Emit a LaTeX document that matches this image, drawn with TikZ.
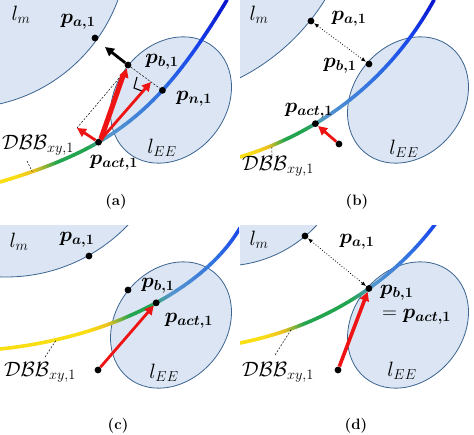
\documentclass[tikz,border=0pt]{standalone}
\usepackage{amsmath}
\usetikzlibrary{arrows.meta}
\definecolor{regfill}{RGB}{219,229,243}
\definecolor{regline}{RGB}{60,100,145}
\definecolor{arrred}{RGB}{238,20,20}
\definecolor{cYel}{RGB}{250,222,20}
\definecolor{cGold}{RGB}{235,192,35}
\definecolor{cGreen}{RGB}{35,165,80}
\definecolor{cSteel}{RGB}{85,150,205}
\definecolor{cMid}{RGB}{50,115,225}
\definecolor{cBlue}{RGB}{25,70,235}
\definecolor{cDark}{RGB}{10,20,205}
\newcommand\gseg[4]{%
  \foreach \k in {0,...,7}{%
    \pgfmathsetmacro\gsA{#1+(#2-#1)*\k/8}%
    \pgfmathsetmacro\gsB{#1+(#2-#1)*(\k+1)/8}%
    \pgfmathsetmacro\gsP{100*(\k+0.5)/8}%
    \path (c0) .. controls (c1) and (c2) .. (c3) coordinate[pos=\gsA] (gA) coordinate[pos=\gsB] (gB);
    \draw[curvestyle, color=#4!\gsP!#3] (gA) -- (gB);
  }}
\tikzset{
  dot/.style={circle, fill=black, inner sep=0pt, minimum size=6.8pt},
  plbl/.style={inner sep=0pt, font=\fontsize{20.74}{24}\selectfont},
  llbl/.style={inner sep=0pt, font=\fontsize{20.74}{24}\selectfont},
  captxt/.style={inner sep=0pt, font=\fontsize{15}{17}\selectfont\bfseries},
  lmregion/.style={fill=regfill, draw=regline, line width=0.8pt},
  redarr/.style={draw=arrred, line width=2.8pt, -{Triangle[length=9pt,width=9pt]}},
  redline/.style={draw=arrred, line width=2.8pt},
  blkarr/.style={draw=black, line width=2.8pt, -{Triangle[length=9pt,width=9pt]}},
  dimarr/.style={dotted, line width=0.8pt, {Latex[length=5pt,width=4pt]}-{Latex[length=5pt,width=4pt]}},
  helper/.style={line width=0.5pt, dash pattern=on 2pt off 1.5pt},
  curvestyle/.style={line width=3.6pt, line cap=round},
}
\begin{document}
\begin{tikzpicture}[x=1pt, y=-1pt]
\useasboundingbox (0,0) rectangle (474,434);
% ---------------- (a)
\begin{scope}
\clip (0,0) rectangle (236,193);
\draw[lmregion] (-37,-57) circle [radius=165];
\draw[lmregion, rotate around={51:(171,100)}] (171,100) ellipse [x radius=68, y radius=55];
\coordinate (c0) at (0,182); \coordinate (c1) at (114,148);
\coordinate (c2) at (160,111); \coordinate (c3) at (227,0);
\gseg{0}{0.05}{cYel}{cYel}
\gseg{0.05}{0.11}{cYel}{cGold}
\gseg{0.11}{0.19}{cGold}{cGreen}
\gseg{0.19}{0.31}{cGreen}{cGreen}
\gseg{0.31}{0.40}{cGreen}{cSteel}
\gseg{0.40}{0.64}{cSteel}{cMid}
\gseg{0.64}{0.84}{cMid}{cBlue}
\gseg{0.84}{1}{cBlue}{cDark}
\path (c0) .. controls (c1) and (c2) .. (c3)
  node[dot, pos=0.35] (pacta) {} node[dot, pos=0.66] (pna) {}
  coordinate[pos=0.1] (lda);
\node[dot] (paa) at (95,38) {};
\node[dot] (pba) at (128,65) {};
\coordinate (bka) at (105,47);
\coordinate (v1a) at (77,128);
\coordinate (v2a) at (151,82);
\coordinate (pbLa) at (122.5,74);
\coordinate (ldta) at (27,161);
\draw[helper] (v1a) -- (pbLa);
\draw[helper] (pba) -- (pna);
\draw[helper] (ldta) -- (lda);
\draw[line width=1.1pt] (137,77) -- (134,88) -- (142,91);
\draw[redarr] (pacta) -- (v1a);
\draw[redarr] (pacta) -- (v2a);
\draw[redline] (pacta) -- (pbLa);
\draw[redarr] (pacta.30) -- (pba);
\draw[blkarr] (pba) -- (bka);
\node[llbl] (lma) at (21,15) {$l_m$};
\node[plbl] (pala) at (78,22) {$\boldsymbol{p_{a,1}}$};
\node[plbl] (pbla) at (162,62) {$\boldsymbol{p_{b,1}}$};
\node[plbl] (pnla) at (194,99) {$\boldsymbol{p_{n,1}}$};
\node[plbl] (pactla) at (114,163) {$\boldsymbol{p_{act,1}}$};
\node[llbl] (dbba) at (38,145) {$\mathcal{DBB}_{xy,1}$};
\node[llbl] (leea) at (162,148) {$l_{EE}$};
\end{scope}
% ---------------- (b)
\begin{scope}
\clip (240,0) rectangle (474,193);
\draw[lmregion] (143,-113) circle [radius=214];
\draw[lmregion, rotate around={51:(408,100)}] (408,100) ellipse [x radius=68, y radius=55];
\coordinate (c0) at (240,157); \coordinate (c1) at (324,131.4);
\coordinate (c2) at (392,76.4); \coordinate (c3) at (434,0);
\gseg{0}{0.05}{cYel}{cYel}
\gseg{0.05}{0.12}{cYel}{cGold}
\gseg{0.12}{0.19}{cGold}{cGreen}
\gseg{0.19}{0.28}{cGreen}{cGreen}
\gseg{0.28}{0.37}{cGreen}{cSteel}
\gseg{0.37}{0.60}{cSteel}{cMid}
\gseg{0.60}{0.84}{cMid}{cBlue}
\gseg{0.84}{1}{cBlue}{cDark}
\path (c0) .. controls (c1) and (c2) .. (c3)
  node[dot, pos=0.32] (pactb) {} coordinate[pos=0.13] (ldb);
\node[dot] (pab) at (311,21) {};
\node[dot] (pbb) at (369,64) {};
\node[dot] (rsb) at (339,144) {};
\coordinate (ldtb) at (272,156);
\draw[helper] (ldtb) -- (ldb);
\draw[dimarr] (pab) -- (pbb);
\draw[redarr] (rsb) -- (pactb);
\node[llbl] (lmb) at (259,15) {$l_m$};
\node[plbl] (palb) at (349,19) {$\boldsymbol{p_{a,1}}$};
\node[plbl] (pblb) at (340,66) {$\boldsymbol{p_{b,1}}$};
\node[plbl] (pactlb) at (309,111) {$\boldsymbol{p_{act,1}}$};
\node[llbl] (dbbb) at (278,166) {$\mathcal{DBB}_{xy,1}$};
\node[llbl] (leeb) at (404,149) {$l_{EE}$};
\end{scope}
% ---------------- (c)
\begin{scope}
\clip (0,225) rectangle (239,410);
\draw[lmregion] (6,108) circle [radius=169];
\draw[lmregion, rotate around={51:(171,325)}] (171,325) ellipse [x radius=68, y radius=55];
\coordinate (c0) at (0,349); \coordinate (c1) at (107,338.1);
\coordinate (c2) at (203,290.9); \coordinate (c3) at (240,228);
\gseg{0}{0.29}{cYel}{cYel}
\gseg{0.29}{0.36}{cYel}{cGold}
\gseg{0.36}{0.44}{cGold}{cGreen}
\gseg{0.44}{0.52}{cGreen}{cGreen}
\gseg{0.52}{0.60}{cGreen}{cSteel}
\gseg{0.60}{0.82}{cSteel}{cMid}
\gseg{0.82}{1}{cMid}{cBlue}
\path (c0) .. controls (c1) and (c2) .. (c3)
  node[dot, pos=0.54] (pactc) {} coordinate[pos=0.18] (ldc);
\node[dot] (pac) at (89,256) {};
\node[dot] (pbc) at (128,290) {};
\node[dot] (rsc) at (98,370) {};
\coordinate (ldtc) at (45,357);
\draw[helper] (ldtc) -- (ldc);
\draw[redarr] (rsc) -- (pactc);
\node[llbl] (lmc) at (19,242) {$l_m$};
\node[plbl] (palc) at (77,240) {$\boldsymbol{p_{a,1}}$};
\node[plbl] (pblc) at (158,286) {$\boldsymbol{p_{b,1}}$};
\node[plbl] (pactlc) at (189,321) {$\boldsymbol{p_{act,1}}$};
\node[llbl] (dbbc) at (40,372) {$\mathcal{DBB}_{xy,1}$};
\node[llbl] (leec) at (164,373) {$l_{EE}$};
\end{scope}
% ---------------- (d)
\begin{scope}
\clip (240,225) rectangle (474,410);
\draw[lmregion] (223,138) circle [radius=128];
\draw[lmregion, rotate around={51:(408,325)}] (408,325) ellipse [x radius=68, y radius=55];
\coordinate (c0) at (240,343); \coordinate (c1) at (321.7,326.6);
\coordinate (c2) at (390.3,284.6); \coordinate (c3) at (436,223);
\gseg{0}{0.10}{cYel}{cYel}
\gseg{0.10}{0.19}{cYel}{cGold}
\gseg{0.19}{0.28}{cGold}{cGreen}
\gseg{0.28}{0.50}{cGreen}{cGreen}
\gseg{0.50}{0.62}{cGreen}{cSteel}
\gseg{0.62}{0.82}{cSteel}{cMid}
\gseg{0.82}{1}{cMid}{cBlue}
\path (c0) .. controls (c1) and (c2) .. (c3)
  node[dot, pos=0.59] (pbd) {} coordinate[pos=0.22] (ldd);
\node[dot] (pad) at (305,236) {};
\node[dot] (rsd) at (338,370) {};
\coordinate (ldtd) at (275,355);
\draw[helper] (ldtd) -- (ldd);
\draw[dimarr] (pad) -- (pbd);
\draw[redarr, line width=3.6pt] (rsd) -- (pbd);
\node[llbl] (lmd) at (259,240) {$l_m$};
\node[plbl] (pald) at (357,242) {$\boldsymbol{p_{a,1}}$};
\node[plbl, anchor=west] (pbld) at (380,293) {$\boldsymbol{p_{b,1}}$};
\node[plbl, anchor=west] (eqld) at (382,317) {$=\boldsymbol{p_{act,1}}$};
\node[llbl] (dbbd) at (278,372) {$\mathcal{DBB}_{xy,1}$};
\node[llbl] (leed) at (402,371) {$l_{EE}$};
\end{scope}
% captions
\node[captxt] (capa) at (116,202) {(a)};
\node[captxt] (capb) at (357,202) {(b)};
\node[captxt] (capc) at (118,426) {(c)};
\node[captxt] (capd) at (356,426) {(d)};
\end{tikzpicture}
\end{document}
